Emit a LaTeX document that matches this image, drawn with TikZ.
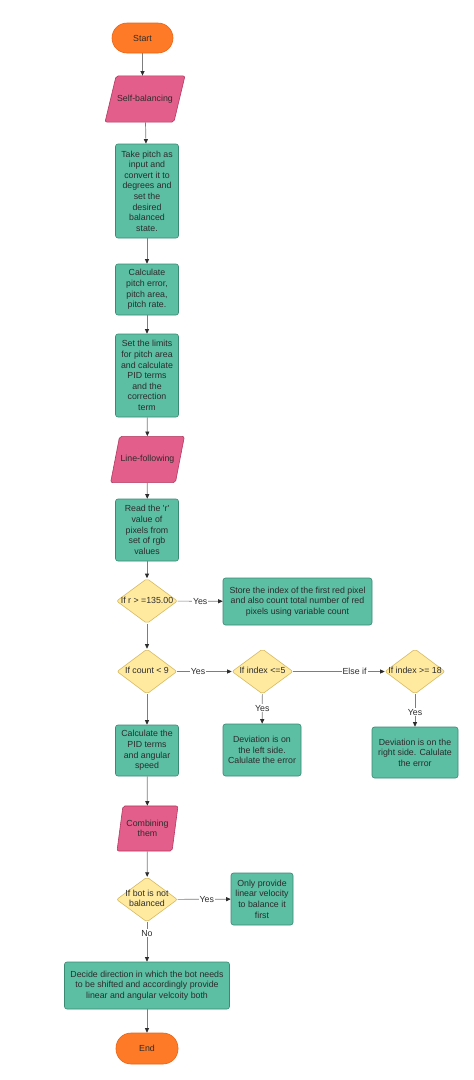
\documentclass[tikz,border=0pt]{standalone}
\usepackage{fontspec}
\setmainfont{Liberation Sans}
\definecolor{termF}{RGB}{255,122,38}
\definecolor{termD}{RGB}{232,100,22}
\definecolor{ioF}{RGB}{227,94,138}
\definecolor{ioD}{RGB}{178,58,98}
\definecolor{procF}{RGB}{92,190,162}
\definecolor{procD}{RGB}{58,138,114}
\definecolor{askF}{RGB}{255,234,160}
\definecolor{askD}{RGB}{214,186,96}
\definecolor{wire}{RGB}{125,125,125}
\definecolor{ink}{RGB}{45,45,45}
\usetikzlibrary{arrows.meta,shapes.geometric}
\newcommand{\flowfont}{\fontsize{8.8}{10.6}\selectfont}
\newcommand{\askline}[1]{\makebox[0pt]{\begin{tabular}{@{}c@{}}#1\end{tabular}}}
\tikzset{
  term/.style={draw=termD, fill=termF, rounded corners=15pt, line width=0.6pt,
              minimum width=61pt, minimum height=30pt, inner sep=0pt,
              font=\flowfont, text=ink},
  io/.style={trapezium, trapezium stretches body, trapezium left angle=76.5,
              trapezium right angle=103.5, draw=ioD, fill=ioF, rounded corners=2pt,
              line width=0.6pt, inner xsep=1pt, inner ysep=19pt,
              font=\flowfont, text=ink, align=center},
  proc/.style={draw=procD, fill=procF, rounded corners=2.5pt, line width=0.6pt,
              inner sep=2pt, font=\flowfont, text=ink, align=center},
  ask/.style={diamond, draw=askD, fill=askF, rounded corners=2pt, line width=0.6pt,
              inner sep=0pt, minimum width=61pt, minimum height=45pt,
              font=\flowfont, text=ink},
  flow/.style={draw=wire, line width=0.7pt,
              -{Triangle[length=4.5pt,width=4pt,color=ink]}},
  lbl/.style={fill=white, inner sep=1pt, font=\flowfont, text=ink},
}
\begin{document}
\begin{tikzpicture}[x=1pt,y=-1pt]
        \useasboundingbox[fill=white] (0,0) rectangle (474,1080);

        \node[term] (start) at (142.5,38) {Start};
        \node[io, minimum width=77pt] (selfbal) at (145,99) {Self-balancing};
        \node[proc, minimum width=63pt, minimum height=94pt] (pitchin) at (147,191)
          {Take pitch as\\input and\\convert it to\\degrees and\\set the\\desired\\balanced\\state.};
        \node[proc, minimum width=63pt, minimum height=51pt] (pitcherr) at (147,289.5)
          {Calculate\\pitch error,\\pitch area,\\pitch rate.};
        \node[proc, minimum width=63pt, minimum height=83pt] (pidlim) at (147,375.5)
          {Set the limits\\for pitch area\\and calculate\\PID terms\\and the\\correction\\term};
        \node[io, minimum width=71pt, trapezium left angle=79, trapezium right angle=101] (linefol) at (147.5,459.5) {Line-following};
        \node[proc, minimum width=63pt, minimum height=62pt] (readr) at (147,530)
          {Read the \textquotesingle r\textquotesingle\\value of\\pixels from\\set of rgb\\values};
        \node[ask] (askr) at (147,601) {\askline{If r > =135.00}};
        \node[proc, minimum width=149pt, minimum height=47pt] (store) at (297.5,601.5)
          {Store the index of the first red pixel\\and also count total number of red\\pixels using variable count};
        \node[ask, minimum width=60pt] (askcount) at (147,671.5) {\askline{If count < 9}};
        \node[ask] (askleft) at (262.5,671.5) {\askline{If index <=5}};
        \node[ask, minimum width=60pt] (askright) at (415,671.5) {\askline{If index >= 18}};
        \node[proc, minimum width=63pt, minimum height=51pt] (pidang) at (147,750.5)
          {Calculate the\\PID terms\\and angular\\speed};
        \node[proc, minimum width=78pt, minimum height=52pt] (devleft) at (262,750)
          {Deviation is on\\the left side.\\Calulate the error};
        \node[proc, minimum width=86pt, minimum height=51pt] (devright) at (415,752.5)
          {Deviation is on the\\right side. Calulate\\the error};
        \node[io, minimum width=61pt, inner ysep=14pt, trapezium left angle=82.5, trapezium right angle=97.5] (combine) at (147.5,828.5) {Combining\\them};
        \node[ask] (askbal) at (147,899.5) {\askline{If bot is not\\balanced}};
        \node[proc, minimum width=62pt, minimum height=52pt] (linvel) at (262,899)
          {Only provide\\linear velocity\\to balance it\\first};
        \node[proc, minimum width=165pt, minimum height=47pt] (decide) at (147,985.5)
          {Decide direction in which the bot needs\\to be shifted and accordingly provide\\linear and angular velcoity both};
        \node[term, minimum width=62pt, minimum height=31pt] (stop) at (147,1048.5) {End};

        \draw[flow] (start.south) -- (start.south |- selfbal.north);
        \draw[flow] (selfbal) -- (pitchin);
        \draw[flow] (pitchin) -- (pitcherr);
        \draw[flow] (pitcherr) -- (pidlim);
        \draw[flow] (pidlim) -- (linefol);
        \draw[flow] (linefol) -- (readr);
        \draw[flow] (readr) -- (askr);
        \draw[flow] (askr) -- node[lbl, pos=0.5] {Yes} (store);
        \draw[flow] (askr) -- (askcount);
        \draw[flow] (askcount) -- node[lbl, pos=0.38] {Yes} (askleft);
        \draw[flow] (askleft) -- node[lbl, pos=0.67] {Else if} (askright);
        \draw[flow] (askcount) -- (pidang);
        \draw[flow] (askleft) -- node[lbl, pos=0.47] {Yes} (devleft);
        \draw[flow] (askright) -- node[lbl, pos=0.55] {Yes} (devright);
        \draw[flow] (pidang) -- (combine);
        \draw[flow] (combine) -- (askbal);
        \draw[flow] (askbal) -- node[lbl, pos=0.55] {Yes} (linvel);
        \draw[flow] (askbal) -- node[lbl, pos=0.28] {No} (decide);
        \draw[flow] (decide) -- (stop);
      \end{tikzpicture}
\end{document}
